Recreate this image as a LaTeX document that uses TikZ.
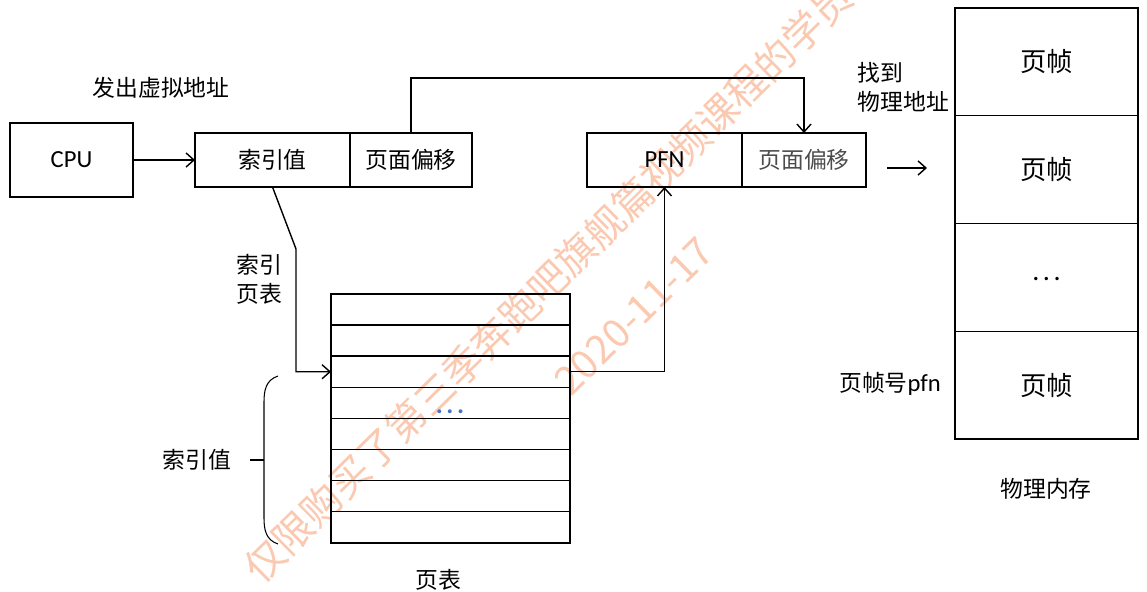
\documentclass[tikz,border=0pt]{standalone}
\usepackage{fontspec}
\setmainfont{Carlito}
\newfontfamily\cjk{Noto Sans CJK SC}
\usetikzlibrary{arrows.meta}
\definecolor{wmorange}{RGB}{251,200,176}
\definecolor{dotblue}{RGB}{68,114,196}
\newcommand{\memdots}{.\hspace{2pt}.\hspace{2pt}.}
\begin{document}
\begin{tikzpicture}[x=0.02cm, y=-0.02cm, line width=0.8pt,
  >={Straight Barb[length=4.5pt,width=8pt]},
  box/.style={draw, inner sep=0pt, outer sep=0pt, minimum height=1.08cm,
    font=\cjk\fontsize{13}{16}\selectfont},
  lbl/.style={inner sep=0pt, font=\cjk\fontsize{13}{16}\selectfont},
  row/.style={draw, inner sep=0pt, outer sep=0pt, minimum width=4.78cm, minimum height=0.622cm},
  frame/.style={draw, inner sep=0pt, outer sep=0pt, minimum width=3.66cm, minimum height=2.155cm,
    font=\cjk\fontsize{15}{18}\selectfont},
  wm/.style={text=wmorange, inner sep=0pt, font=\cjk\fontsize{22.6}{26}\selectfont}]
 \useasboundingbox (0,0) rectangle (1147,592);

 % watermark behind everything
 \node[wm, rotate=44.5] (wmtext) at (548,282) {仅限购买了第三季奔跑吧旗舰篇视频课程的学员};
 \node[wm, rotate=44.5] (wmdate) at (634,316) {2020-11-17};

 % virtual address
 \node[draw, inner sep=0pt, outer sep=0pt, minimum width=2.46cm, minimum height=1.48cm,
   font=\fontsize{14}{16}\selectfont] (cpu) at (71.5,160) {CPU};
 \node[lbl] (issue) at (161,88) {发出虚拟地址};
 \node[box, minimum width=3.1cm] (idx) at (272.5,160) {索引值};
 \node[box, minimum width=2.44cm] (off) at (411,160) {页面偏移};

 % physical address
 \node[box, minimum width=3.1cm, font=\fontsize{14}{16}\selectfont] (pfn) at (664.5,160) {PFN};
 \node[box, minimum width=2.48cm, text=black!70] (poff) at (804,160) {页面偏移};
 \node[lbl, align=left, anchor=west, font=\cjk\fontsize{13}{16.5}\selectfont] (found) at (857,87) {找到\\物理地址};

 % page table rows
 \foreach \i in {1,...,8} {
  \node[row] (pt\i) at (450.5,{294+31.1*(\i-0.5)}) {};
 }
 \node[inner sep=0pt, text=dotblue, font=\bfseries\fontsize{15}{16}\selectfont] (ptdots) at (450,412) {\memdots};
 \node[lbl] (ptname) at (438,580) {页表};
 \node[lbl, align=left, anchor=west, font=\cjk\fontsize{13}{16.5}\selectfont] (lookup) at (236,279) {索引\\页表};

 % brace for the index
 \draw[line width=0.6pt] (278,376) .. controls (266,380) and (264,390) .. (264,402) -- (264,518)
   .. controls (264,530) and (266,540) .. (278,544);
 \draw[line width=0.6pt] (250,460) -- (264,460);
 \node[lbl] (idxname) at (197,460) {索引值};

 % physical memory frames
 \foreach \i/\txt in {1/页帧,2/页帧,3/{\rmfamily\fontsize{16}{18}\selectfont\raisebox{-4pt}{\memdots}},4/页帧} {
  \node[frame] (mem\i) at (1046.5,{8+107.75*(\i-0.5)}) {\txt};
 }
 \node[lbl] (pfnname) at (890,384) {页帧号{\rmfamily\fontsize{14}{16}\selectfont pfn}};
 \node[lbl] (memname) at (1046,489) {物理内存};

 % connectors
 \draw[->] (cpu) -- (idx);
 \draw[->] (off.north) -- ++(0,-55) -| (poff.north);
 \draw[->] (idx.south) -- (296,249) |- (pt3.west);
 \draw[->] (pt3.east) -| (pfn.south);
 \coordinate (go) at (887,168);
 \coordinate (hit) at (927,168);
 \draw[->] (go) -- (hit);
\end{tikzpicture}
\end{document}
